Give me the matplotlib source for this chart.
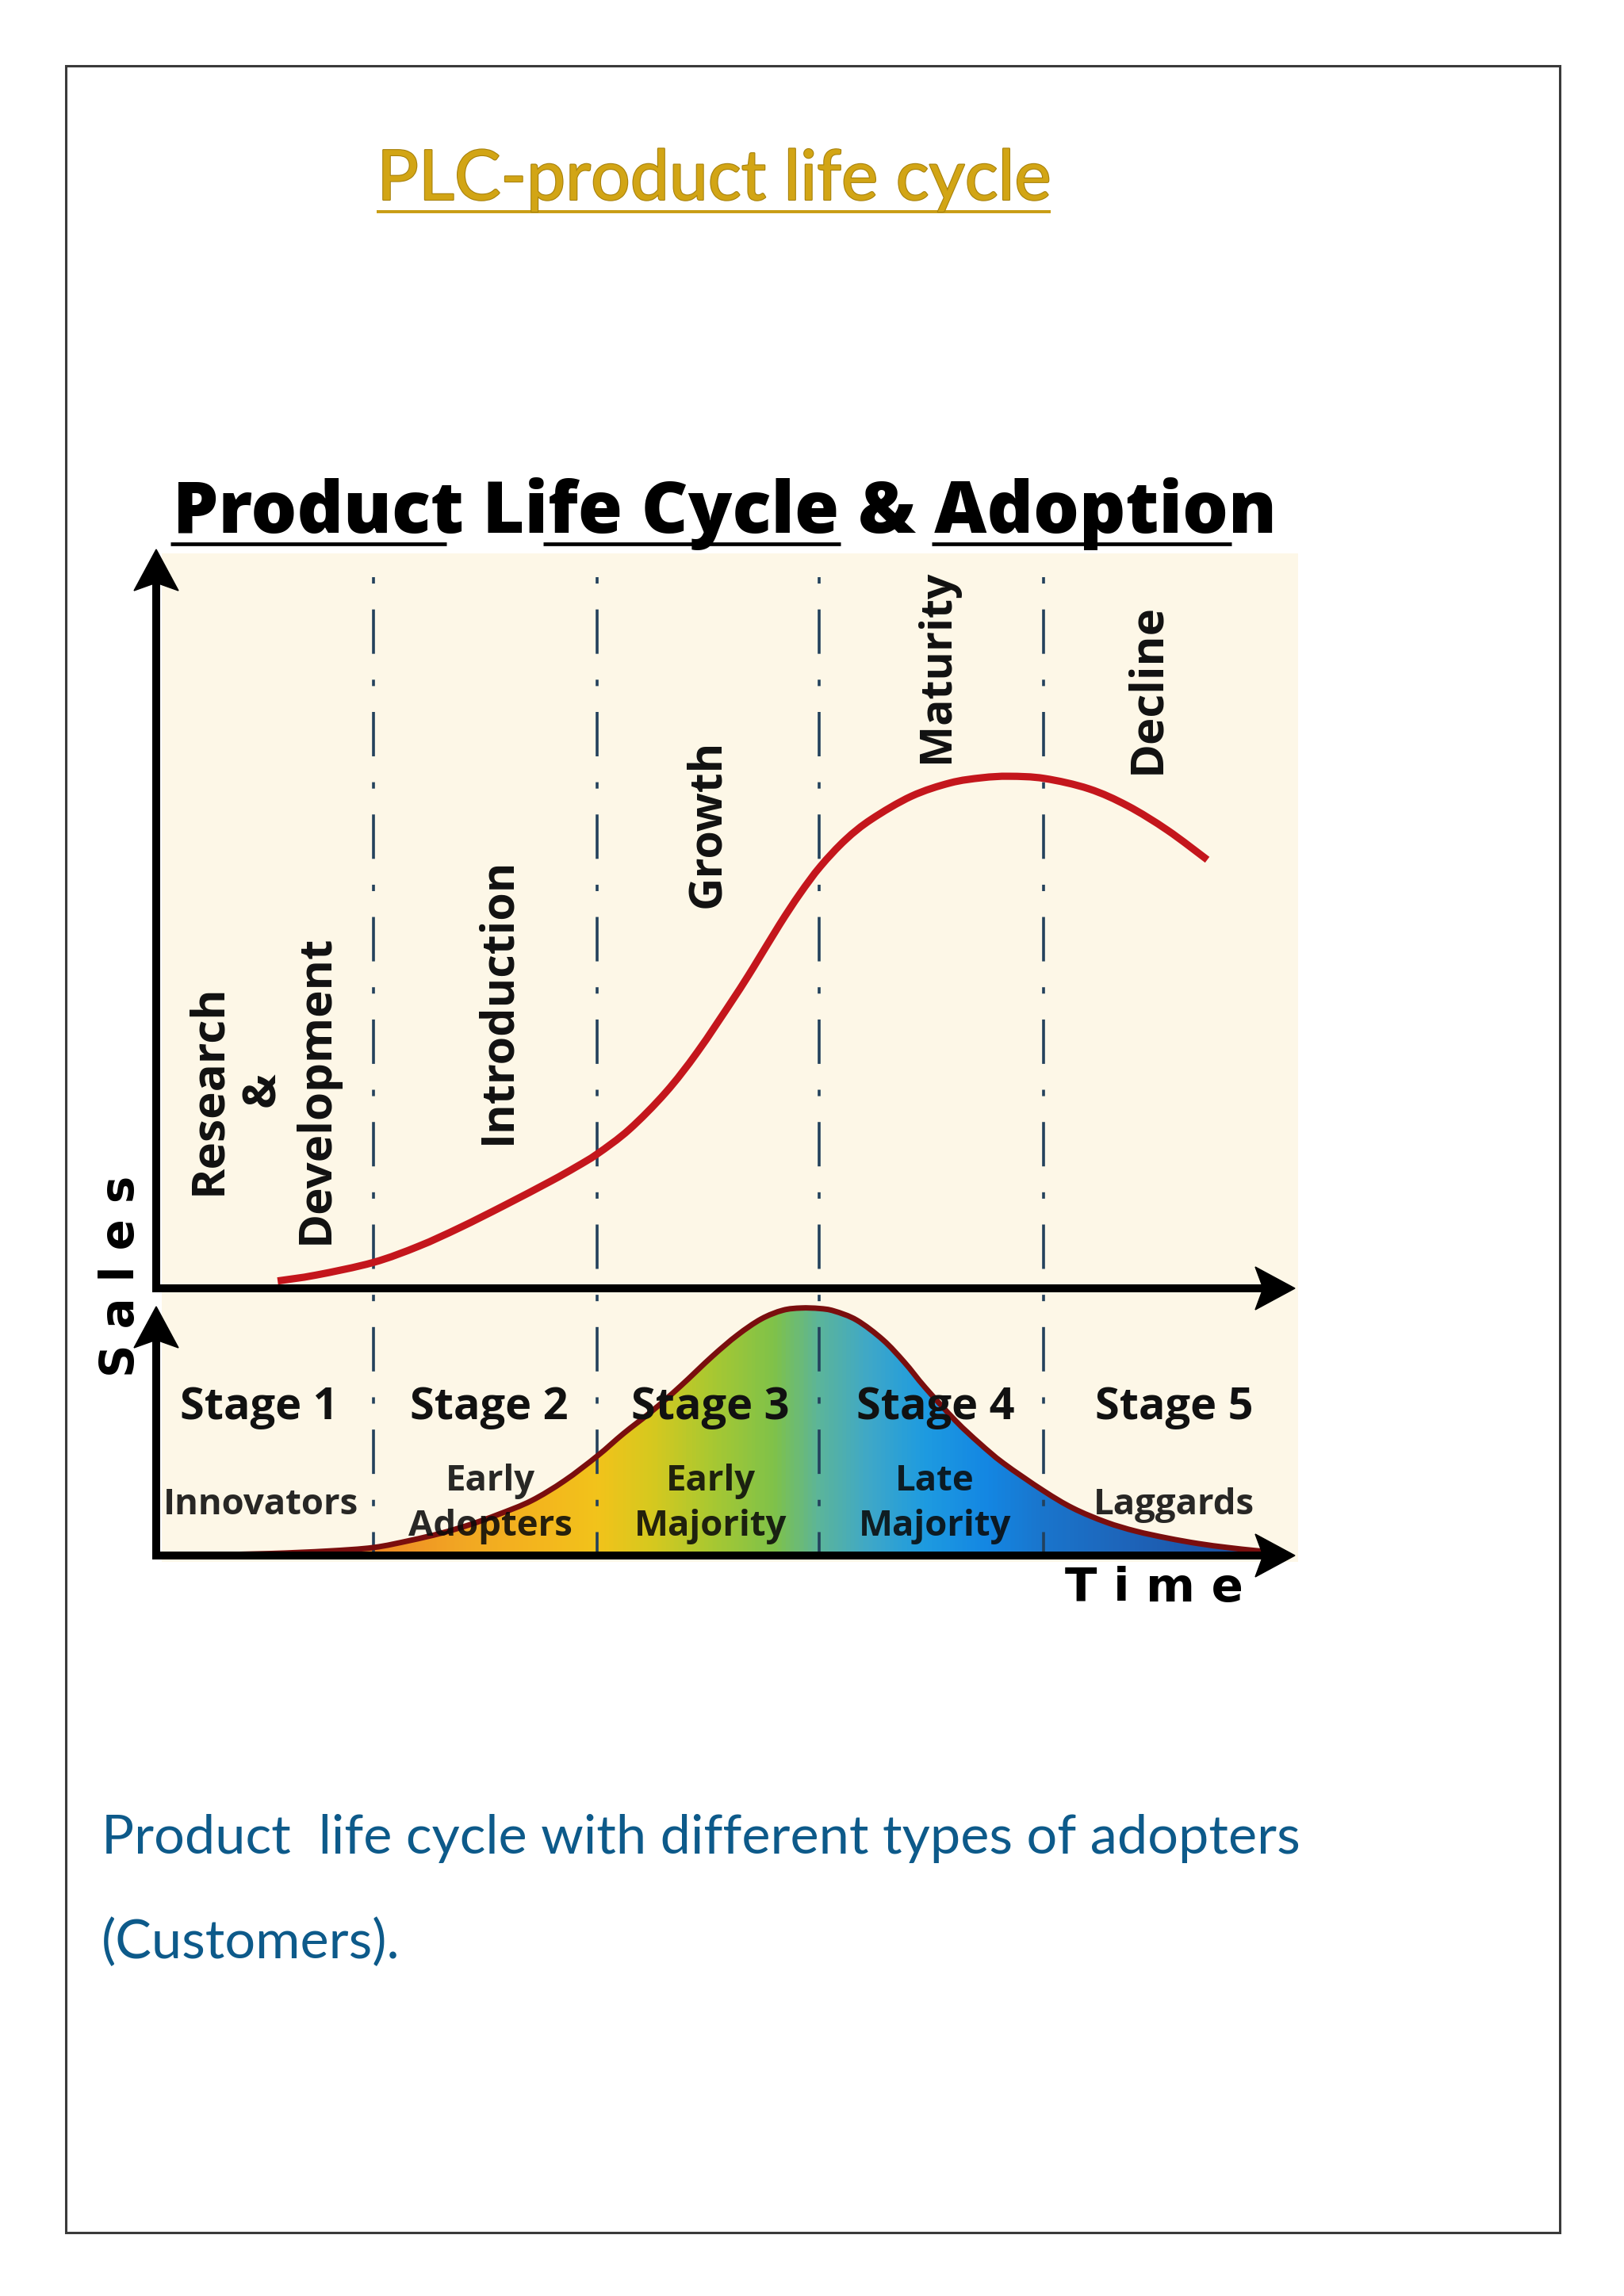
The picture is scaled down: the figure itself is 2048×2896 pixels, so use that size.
import numpy as np
import matplotlib
matplotlib.use("Agg")
import matplotlib.pyplot as plt
from matplotlib import font_manager
from matplotlib import patheffects
from matplotlib.colors import LinearSegmentedColormap
from matplotlib.patches import Polygon, Rectangle, PathPatch
from matplotlib.path import Path

plt.rcParams['lines.scale_dashes'] = False

# ---------------- data ----------------
phase_labels = ["Research\n&\nDevelopment", "Introduction", "Growth", "Maturity", "Decline"]
stage_labels = ["Stage 1", "Stage 2", "Stage 3", "Stage 4", "Stage 5"]
adopter_labels = ["Innovators", "Early\nAdopters", "Early\nMajority", "Late\nMajority", "Laggards"]
stage_bounds = [19.0, 38.7, 58.2, 77.9]          # time (0-100)

# product-life-cycle sales curve (time, sales 0-100)
sales_t = [10.6, 14.0, 19.0, 23.0, 26.6, 30.5, 34.6, 36.8, 38.7, 41.5, 44.7, 47.5,
           50.7, 52.4, 54.7, 56.5, 58.3, 60.5, 62.8, 66.3, 69.7, 72.5, 74.9, 78.0,
           81.9, 85.3, 88.8, 92.3]
sales_v = [1.0, 1.8, 3.5, 5.7, 8.2, 11.2, 14.5, 16.4, 18.2, 21.5, 26.5, 32.0,
           39.3, 43.4, 49.2, 53.4, 57.1, 60.7, 63.5, 66.6, 68.4, 69.1, 69.3, 69.0,
           67.6, 65.3, 62.0, 58.0]

# adoption bell curve (time, share of peak 0-100)
adopt_t = [5, 10, 15, 19, 22.2, 25, 27.5, 30, 32.9, 35.8, 38.7, 41, 43.5, 46, 48.8, 51,
           53.1, 55, 56.6, 58.2, 59.5, 61.5, 63.8, 65.7, 67.5, 70.2, 72.3, 74.4, 77.9,
           80.5, 83.4, 86, 88.8, 91.5, 94.1, 96.5, 98.5]
adopt_v = [0.3, 0.8, 1.8, 3.2, 6.0, 9.0, 12.4, 16.5, 22.0, 30.0, 40.0, 49.0, 58.0, 68.0,
           80.0, 88.5, 95.0, 98.5, 99.4, 99.2, 98.2, 94.5, 86.6, 77.5, 67.5, 54.0, 45.0,
           37.0, 26.0, 19.0, 13.4, 9.8, 7.0, 4.8, 3.2, 2.0, 1.2]

grad_t = [3, 12, 19.5, 27, 33, 38.7, 43.5, 48.8, 54.3, 58.2, 62.6, 67.5, 73, 78, 86, 100]
grad_colors = ['#D8401F', '#E3562A', '#EF8C25', '#F2A823', '#F4B51E', '#F2C31B', '#D6C91F',
               '#A8C832', '#7FC24A', '#5CB59A', '#3FA8C8', '#1E9BE0', '#1487E3', '#1A75CC',
               '#1E63B8', '#1A4896']

title_text = "PLC-product life cycle"
heading_text = "Product Life Cycle & Adoption"
caption_lines = ["Product  life cycle with different types of adopters", "(Customers)."]


# ---------------- fonts ----------------
def pick(cands):
    for c in cands:
        try:
            font_manager.findfont(font_manager.FontProperties(family=c), fallback_to_default=False)
            return c
        except Exception:
            pass
    return 'DejaVu Sans'

F_HEAD = pick(['Liberation Sans Narrow', 'Open Sans', 'Lato'])
F_LAB = pick(['Open Sans', 'Lato', 'Liberation Sans'])
F_CAP = pick(['Lato', 'Open Sans'])
F_HEAVY = 'DejaVu Sans'

# ---------------- figure ----------------
W, H = 2048, 2896
fig = plt.figure(figsize=(W / 100, H / 100), dpi=100)
fig.patch.set_facecolor('white')
renderer = fig.canvas.get_renderer()


def px_overlay(z):
    a = fig.add_axes([0, 0, 1, 1], zorder=z)
    a.set_xlim(0, W)
    a.set_ylim(H, 0)
    a.axis('off')
    a.patch.set_alpha(0)
    return a


def px_axes(x0, y0, x1, y1, z):
    a = fig.add_axes([x0 / W, 1 - y1 / H, (x1 - x0) / W, (y1 - y0) / H], zorder=z)
    a.axis('off')
    a.patch.set_alpha(0)
    return a


def smooth_path(xs, ys, close_base=False):
    """Cubic (Catmull-Rom) path through the given points."""
    P = np.column_stack([xs, ys]).astype(float)
    n = len(P)
    verts = [P[0]]
    codes = [Path.MOVETO]
    for i in range(n - 1):
        p0 = P[i - 1] if i > 0 else P[i]
        p1, p2 = P[i], P[i + 1]
        p3 = P[i + 2] if i + 2 < n else P[i + 1]
        verts += [p1 + (p2 - p0) / 6, p2 - (p3 - p1) / 6, p2]
        codes += [Path.CURVE4] * 3
    if close_base:
        verts += [(xs[-1], 0), (xs[0], 0), P[0]]
        codes += [Path.LINETO, Path.LINETO, Path.CLOSEPOLY]
    return Path(verts, codes)


ov = px_overlay(0)
ax_bot = px_axes(198, 1625, 1633, 1962, 2)
ax_bot.set_xlim(0, 100)
ax_bot.set_ylim(0, 107.3)
ax_top = px_axes(198, 693, 1633, 1625, 3)
ax_top.set_xlim(0, 100)
ax_top.set_ylim(0, 100)
fg = px_overlay(6)

# page border
ov.add_patch(Rectangle((83, 83), 1884, 2733, fill=False, lw=2.2, edgecolor='#3a3a3a'))
# cream plotting area
ov.add_patch(Rectangle((204, 698), 1433, 1272, facecolor='#FDF7E7', edgecolor='none'))

# ---------------- bottom panel: adoption bell ----------------
cmap = LinearSegmentedColormap.from_list(
    'adopt', [((t - grad_t[0]) / (grad_t[-1] - grad_t[0]), c) for t, c in zip(grad_t, grad_colors)])
img = ax_bot.imshow(np.linspace(0, 1, 800)[None, :], cmap=cmap, aspect='auto',
                    extent=[grad_t[0], grad_t[-1], 0, 105], origin='lower',
                    interpolation='bilinear', zorder=1)
clip = PathPatch(smooth_path(adopt_t, adopt_v, close_base=True), facecolor='none',
                 edgecolor='none', transform=ax_bot.transData)
ax_bot.add_patch(clip)
img.set_clip_path(clip)
ax_bot.add_patch(PathPatch(smooth_path(adopt_t, adopt_v), fill=False, edgecolor='#7A0E0E',
                           lw=5.0, capstyle='round', joinstyle='round', zorder=4))

# stage boundaries (dash-dot), spanning both panels
top_data = (1962 - 728) / 337 * 107.3
for b in stage_bounds:
    ln, = ax_bot.plot([b, b], [top_data, 0], color='#23415C', lw=2.6, clip_on=False, zorder=3)
    ln.set_linestyle((0, (5.8, 23.5, 40.3, 23.5)))

# ---------------- top panel: sales curve ----------------
ax_top.add_patch(PathPatch(smooth_path(sales_t, sales_v), fill=False, edgecolor='#C4161C',
                           lw=6.6, capstyle='butt', joinstyle='round', zorder=4))


# ---------------- axes arrows ----------------
def arrow_up(a, x, y_bot, y_tip):
    a.plot([x, x], [y_bot, y_tip + 40], color='black', lw=7.2, solid_capstyle='projecting')
    a.add_patch(Polygon([(x, y_tip), (x + 28, y_tip + 52), (x, y_tip + 42), (x - 28, y_tip + 52)],
                        closed=True, facecolor='black', edgecolor='black', lw=1))


def arrow_right(a, y, x_left, x_tip):
    a.plot([x_left, x_tip - 40], [y, y], color='black', lw=7.2, solid_capstyle='projecting')
    a.add_patch(Polygon([(x_tip, y), (x_tip - 50, y - 27), (x_tip - 40, y), (x_tip - 50, y + 27)],
                        closed=True, facecolor='black', edgecolor='black', lw=1))


arrow_up(fg, 197, 1625, 693)
arrow_right(fg, 1625, 197, 1633)
arrow_up(fg, 197, 1962, 1648)
arrow_right(fg, 1962, 197, 1633)


# ---------------- text helpers ----------------
def fit(a, x, y, s, length, rot=0, fs0=40, **kw):
    t = a.text(x, y, s, fontsize=fs0, rotation=rot, **kw)
    bb = t.get_window_extent(renderer=renderer)
    L = bb.height if rot in (90, 270) else bb.width
    t.set_fontsize(fs0 * length / L)
    return t


# title
t_title = fit(fg, 900, 252, title_text, 851, family=F_CAP, color='#D2A515',
              ha='center', va='baseline',
              path_effects=[patheffects.withStroke(linewidth=1.6, foreground='#A8820C')])
bb = t_title.get_window_extent(renderer=renderer)
fg.plot([bb.x0, bb.x1], [267, 267], color='#C99D14', lw=2.8, solid_capstyle='butt')

# heading
fit(fg, 218, 672, heading_text, 1389, family=F_HEAD, weight='heavy', color='black',
    ha='left', va='baseline')
for x0, x1 in [(215, 563), (685, 1060), (1175, 1553)]:
    fg.plot([x0, x1], [686, 686], color='black', lw=3.4, solid_capstyle='butt')

# phase labels (rotated)
phase_pos = [(331, 1374, 390), (628, 1262, 361), (892, 1039, 212), (1181, 840, 243), (1447, 868, 215)]
for lab, (x, y, L) in zip(phase_labels, phase_pos):
    fit(fg, x, y, lab, L, rot=90, family=F_LAB, weight='bold', color='#111111',
        ha='center', va='center', multialignment='center', linespacing=1.22)

# stage labels
t0 = fit(fg, 0, -500, stage_labels[1], 199, family=F_LAB, weight='bold')
fs_stage = t0.get_fontsize()
t0.remove()
stage_x = [327, 617, 896, 1180, 1481]
for lab, x in zip(stage_labels, stage_x):
    fg.text(x, 1790, lab, fontsize=fs_stage, family=F_LAB, weight='bold', color='#111111',
            ha='center', va='baseline')

# adopter labels
t0 = fit(fg, 0, -500, adopter_labels[4], 203, family=F_LAB, weight='bold')
fs_ad = t0.get_fontsize()
t0.remove()
adopt_pos = [(329, 1910, 'baseline'), (618, 1897, 'center'), (896, 1897, 'center'),
             (1179, 1897, 'center'), (1480, 1910, 'baseline')]
for lab, (x, y, va) in zip(adopter_labels, adopt_pos):
    fg.text(x, y, lab, fontsize=fs_ad, family=F_LAB, weight='bold', color='#0a0a0a', alpha=0.88,
            ha='center', va=va, multialignment='center', linespacing=1.38)

# axis names
fit(fg, 152, 1610, "S a l e s", 254, rot=90, family=F_HEAVY, weight='bold', color='black',
    ha='center', va='center')
fit(fg, 1455, 2020, "T i m e", 225, family=F_HEAVY, weight='bold', color='black',
    ha='center', va='baseline')

# caption
tc = fit(fg, 128, 2338, caption_lines[0], 1508, family=F_CAP, color='#0D5A8A',
         ha='left', va='baseline')
fg.text(128, 2470, caption_lines[1], fontsize=tc.get_fontsize(), family=F_CAP, color='#0D5A8A',
        ha='left', va='baseline')

fig.savefig('out.png', dpi=100, facecolor='white')
